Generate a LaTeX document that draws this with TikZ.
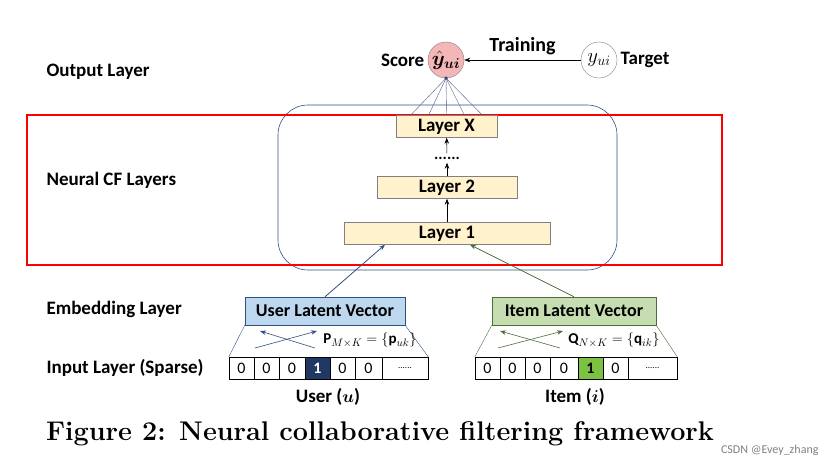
\documentclass[tikz,border=0pt]{standalone}
\usepackage{bm}
\usepackage{fontspec}
\setmainfont{Carlito}
\newfontfamily\capfont{Latin Modern Roman}
\usetikzlibrary{arrows.meta,calc}
\definecolor{layerfill}{HTML}{FFF2CC}
\definecolor{userfill}{HTML}{BDD7EE}
\definecolor{itemfill}{HTML}{C5DDB0}
\definecolor{userdark}{HTML}{2F4F7F}
\definecolor{itemdark}{HTML}{4E6B3A}
\definecolor{navy}{HTML}{1F3864}
\definecolor{lgreen}{HTML}{7CC142}
\definecolor{scorefill}{HTML}{F4B6B6}
\begin{document}
\begin{tikzpicture}[x=1pt,y=-1pt,
  lbl/.style={anchor=west,font=\fontsize{19}{21}\selectfont\bfseries},
  layer/.style={draw=gray,fill=layerfill,minimum height=22pt,inner sep=0pt,font=\fontsize{19}{21}\selectfont\bfseries},
  cell/.style={draw,minimum height=22pt,inner sep=0pt,font=\fontsize{16}{18}\selectfont},
  arr/.style={-{Stealth[length=6pt]},semithick}]
\useasboundingbox (0,0) rectangle (837,469);
% left labels
\node[lbl] (lout) at (43,72) {Output Layer};
\node[lbl] (lncf) at (43,180) {Neural CF Layers};
\node[lbl] (lemb) at (43,309) {Embedding Layer};
\node[lbl] (linp) at (43,368) {Input Layer (Sparse)};
% frames
\draw[userdark,semithick,rounded corners=30pt] (278,105) rectangle (617,270);
\draw[red,line width=1.3pt] (27,115) rectangle (722,265);
% layers
\node[layer,minimum width=101pt] (lx) at (446.5,126.5) {Layer X};
\node[layer,minimum width=140pt] (l2) at (447,187.5) {Layer 2};
\node[layer,minimum width=206pt] (l1) at (447,233.5) {Layer 1};
\node[font=\fontsize{16}{18}\selectfont\bfseries] (dots) at (447,158) {......};
\draw[arr] (l1) -- (l2);
\draw[arr] (l2) -- (dots);
\draw[arr] (dots) -- (lx);
% output
\node[circle,draw=gray,fill=scorefill,minimum size=36pt,inner sep=0pt,font=\fontsize{20}{22}\selectfont] (score) at (446,60) {$\hat{\bm{y}}_{\bm{ui}}$};
\node[circle,draw=gray,fill=white,minimum size=36pt,inner sep=0pt,font=\fontsize{20}{22}\selectfont] (target) at (599,60) {$y_{ui}$};
\node[lbl,anchor=east] (tscore) at (score.west) {Score};
\node[lbl] (ttarget) at (target.east) {Target};
\draw[arr] (target) -- (score) node[midway,above=1pt,font=\fontsize{20}{22}\selectfont\bfseries] {Training};
\fill[navy] (score.south) circle (1.8pt);
\foreach \dx in {-36,-18,0,18,36}
  \draw[navy!80] (score.south) -- ($(lx.north)+(\dx,0)$);
% embedding
\node[draw=userdark,fill=userfill,minimum width=160pt,minimum height=28pt,inner sep=0pt,font=\fontsize{18}{20}\selectfont\bfseries] (uvec) at (325,311) {User Latent Vector};
\node[draw=itemdark,fill=itemfill,minimum width=164pt,minimum height=28pt,inner sep=0pt,font=\fontsize{18}{20}\selectfont\bfseries] (ivec) at (574,311) {Item Latent Vector};
\draw[arr,userdark,thick] (uvec.north) -- ($(l1.south)+(-62,0)$);
\draw[arr,itemdark,thick] (ivec.north) -- ($(l1.south)+(23,0)$);
% user input
\foreach \i/\a/\b in {1/229/254,2/254/279,3/279/305,5/330/355,6/355/382}
  \node[cell,minimum width=\b pt-\a pt] (u\i) at ({(\a+\b)/2},368) {0};
\node[cell,fill=navy,text=white,font=\fontsize{16}{18}\selectfont\bfseries,minimum width=25pt] (u4) at (317.5,368) {1};
\node[cell,minimum width=46pt,font=\small] (u7) at (405,368) {......};
\draw[userdark] (uvec.south west) -- (u1.north west);
\draw[userdark] (uvec.south east) -- (u7.north east);
\coordinate (ua) at (255,348); \coordinate (ub) at (317,331);
\coordinate (uc) at (315,348); \coordinate (ud) at (260,331);
\draw[arr,userdark] (ua) -- (ub);
\draw[arr,userdark] (uc) -- (ud);
\node[font=\fontsize{15}{17}\selectfont] (pm) at (370,340) {$\mathbf{P}_{M\times K}=\{\mathbf{p}_{uk}\}$};
\node[font=\fontsize{19}{21}\selectfont\bfseries] (tu) at (328,397) {User ($\bm{u}$)};
% item input
\foreach \i/\a/\b in {1/475/500,2/500/525,3/525/550,4/550/578,6/603/628}
  \node[cell,minimum width=\b pt-\a pt] (v\i) at ({(\a+\b)/2},368) {0};
\node[cell,fill=lgreen,font=\fontsize{16}{18}\selectfont\bfseries,minimum width=25pt] (v5) at (590.5,368) {1};
\node[cell,minimum width=49pt,font=\small] (v7) at (652.5,368) {......};
\draw[itemdark] (ivec.south west) -- (v1.north west);
\draw[itemdark] (ivec.south east) -- (v7.north east);
\coordinate (va) at (498,348); \coordinate (vb) at (563,331);
\coordinate (vc) at (560,348); \coordinate (vd) at (500,331);
\draw[arr,itemdark] (va) -- (vb);
\draw[arr,itemdark] (vc) -- (vd);
\node[font=\fontsize{15}{17}\selectfont] (qm) at (614,340) {$\mathbf{Q}_{N\times K}=\{\mathbf{q}_{ik}\}$};
\node[font=\fontsize{19}{21}\selectfont\bfseries] (ti) at (575,397) {Item ($\bm{i}$)};
% caption
\node[font=\capfont\fontsize{27}{29}\selectfont\bfseries] (cap) at (380,434) {Figure 2: Neural collaborative filtering framework};
\node[font=\fontsize{12}{14}\selectfont,text=gray,anchor=east] (wm) at (822,450) {CSDN @Evey\_zhang};
\end{tikzpicture}
\end{document}
